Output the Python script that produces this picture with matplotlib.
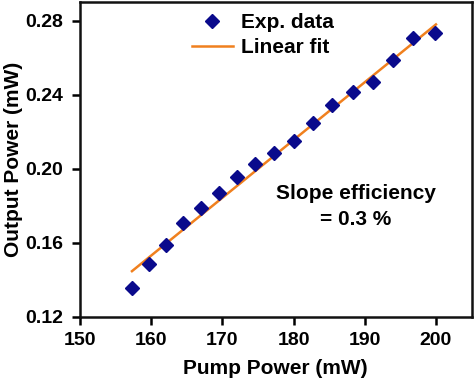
import matplotlib
matplotlib.use("Agg")
import matplotlib.pyplot as plt

pump_power = [157.3, 159.7, 162.1, 164.5, 167.0, 169.5, 172.0, 174.6, 177.2,
              180.0, 182.7, 185.4, 188.3, 191.1, 193.9, 196.8, 199.9]
output_power = [0.1353, 0.1483, 0.1587, 0.1707, 0.1785, 0.1869, 0.1955, 0.2027,
                0.2087, 0.2149, 0.2249, 0.2342, 0.2414, 0.2468, 0.2585, 0.2707, 0.2734]
fit_x = [157.3, 200.0]
fit_y = [0.1446, 0.2779]
x_ticks = [150, 160, 170, 180, 190, 200]
y_ticks = [0.12, 0.16, 0.20, 0.24, 0.28]
y_tick_labels = ["0.12", "0.16", "0.20", "0.24", "0.28"]

plt.rcParams['font.family'] = ['Liberation Sans', 'DejaVu Sans']
plt.rcParams['font.weight'] = 'bold'

fig = plt.figure(figsize=(4.74, 3.8), dpi=100)
ax = fig.add_axes([0.1688, 0.1666, 0.826, 0.828])

ax.plot(pump_power, output_power, linestyle='none', marker='D', markersize=7.5,
        color='#0A0A8C', label='Exp. data', zorder=3)
ax.plot(fit_x, fit_y, color='#F0801E', linewidth=1.8, label='Linear fit', zorder=2)

ax.set_xlim(150, 205)
ax.set_ylim(0.12, 0.29)
ax.set_xticks(x_ticks)
ax.set_yticks(y_ticks)
ax.set_yticklabels(y_tick_labels)
ax.tick_params(direction='out', length=6, width=1.8, labelsize=14)
ax.tick_params(axis='x', pad=5)
ax.tick_params(axis='y', pad=6)
for lab in ax.get_xticklabels() + ax.get_yticklabels():
    lab.set_fontweight('bold')
for s in ax.spines.values():
    s.set_linewidth(1.8)
    s.set_color('#111111')

ax.set_xlabel('Pump Power (mW)', fontsize=15, fontweight='bold', labelpad=7)
ax.set_ylabel('Output Power (mW)', fontsize=15, fontweight='bold', labelpad=2)

ax.legend(loc='upper center', bbox_to_anchor=(0.466, 1.025), frameon=False,
          prop={'size': 15, 'weight': 'bold'}, handlelength=2.0,
          handletextpad=0.35, labelspacing=0.3)

ax.text(0.705, 0.35, 'Slope efficiency\n= 0.3 %', transform=ax.transAxes,
        ha='center', va='center', fontsize=15, fontweight='bold',
        linespacing=1.5)

fig.savefig('out.png', dpi=100)
